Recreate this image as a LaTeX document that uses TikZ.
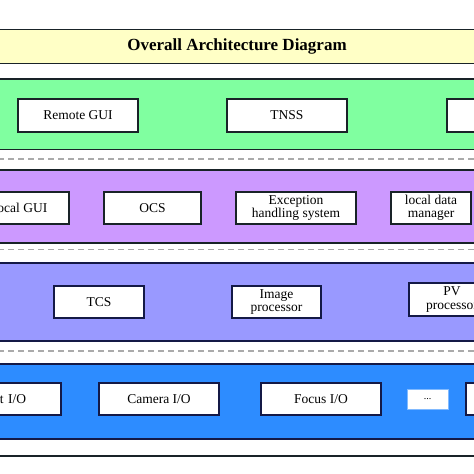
\documentclass[tikz,border=0pt]{standalone}
\usepackage{fontspec}
\setmainfont{Liberation Serif}
\definecolor{ylw}{RGB}{255,255,198}
\definecolor{grn}{RGB}{128,255,160}
\definecolor{prp}{RGB}{204,153,255}
\definecolor{lav}{RGB}{153,153,255}
\definecolor{blu}{RGB}{45,140,255}
\definecolor{edge}{RGB}{25,35,40}
\definecolor{navy}{RGB}{20,25,70}
\definecolor{sep}{RGB}{170,170,170}
\tikzset{
  band/.style={draw=edge, line width=1.3pt, inner sep=0pt, minimum width=540pt},
  box/.style={draw=edge, fill=white, line width=1.5pt, inner sep=0pt, align=center,
              font=\fontsize{13.5}{13.5}\selectfont},
  sepline/.style={draw=sep, line width=1.3pt, dash pattern=on 6pt off 4pt},
}
\begin{document}
\begin{tikzpicture}[x=1pt,y=-1pt]
\useasboundingbox (0,0) rectangle (474,474);
\clip (0,0) rectangle (474,474);
\fill[white] (0,0) rectangle (474,474);
% bands
\node[band, fill=ylw, minimum height=34pt] (title) at (237,46.5)
  {\fontsize{17}{17}\selectfont\bfseries Overall Architecture Diagram};
\node[band, fill=grn, minimum height=70.5pt] (l1) at (237,114.25) {};
\node[band, fill=prp, minimum height=73pt] (l2) at (237,206.5) {};
\node[band, fill=lav, minimum height=78pt, draw=navy] (l3) at (237,302) {};
\node[band, fill=blu, minimum height=75pt, draw=navy] (l4) at (237,401.5) {};
% separators
\draw[sepline] (-2,159) -- (476,159);
\draw[sepline] (-2,249.5) -- (476,249.5);
\draw[sepline] (-2,351) -- (476,351);
\coordinate (bl) at (-5,456);
\coordinate (br) at (480,456);
\draw[draw=edge, line width=1.8pt] (bl) -- (br);
% layer 1
\node[box, minimum width=120pt, minimum height=33pt] (rgui) at (78,115.5) {Remote GUI};
\node[box, minimum width=120pt, minimum height=33pt] (tnss) at (287,115.5) {TNSS};
\node[box, minimum width=120pt, minimum height=33pt] (g3) at (507,115.5) {};
% layer 2
\node[box, minimum width=97pt, minimum height=32pt] (lgui) at (20.5,208) {local GUI};
\node[box, minimum width=97pt, minimum height=32pt] (ocs) at (152.5,208) {OCS};
\node[box, minimum width=120pt, minimum height=32pt] (exc) at (296,208) {Exception\\handling system};
\node[box, minimum width=80pt, minimum height=32pt] (ldm) at (431,208) {local data\\manager};
% layer 3
\node[box, minimum width=90pt, minimum height=32pt, draw=navy] (tcs) at (99,302) {TCS};
\node[box, minimum width=89pt, minimum height=32pt, draw=navy] (img) at (276.5,302) {Image\\processor};
\node[box, minimum width=86pt, minimum height=33pt, draw=navy] (pv) at (452,299.5) {PV\\processor};
% layer 4
\node[box, minimum width=120pt, minimum height=32pt, draw=navy, text width=120pt, align=left] (tio) at (1,399)
  {\hspace*{59pt}t I/O};
\node[box, minimum width=120pt, minimum height=32pt, draw=navy] (cam) at (159,399) {Camera I/O};
\node[box, minimum width=120pt, minimum height=32pt, draw=navy] (foc) at (321,399) {Focus I/O};
\node[box, minimum width=41pt, minimum height=20pt, draw=blu!60!white, line width=0.8pt,
      font=\fontsize{10}{10}\selectfont] (dots) at (427.5,399) {...};
\node[box, minimum width=120pt, minimum height=32pt, draw=navy] (b5) at (526,399) {};
\end{tikzpicture}
\end{document}
